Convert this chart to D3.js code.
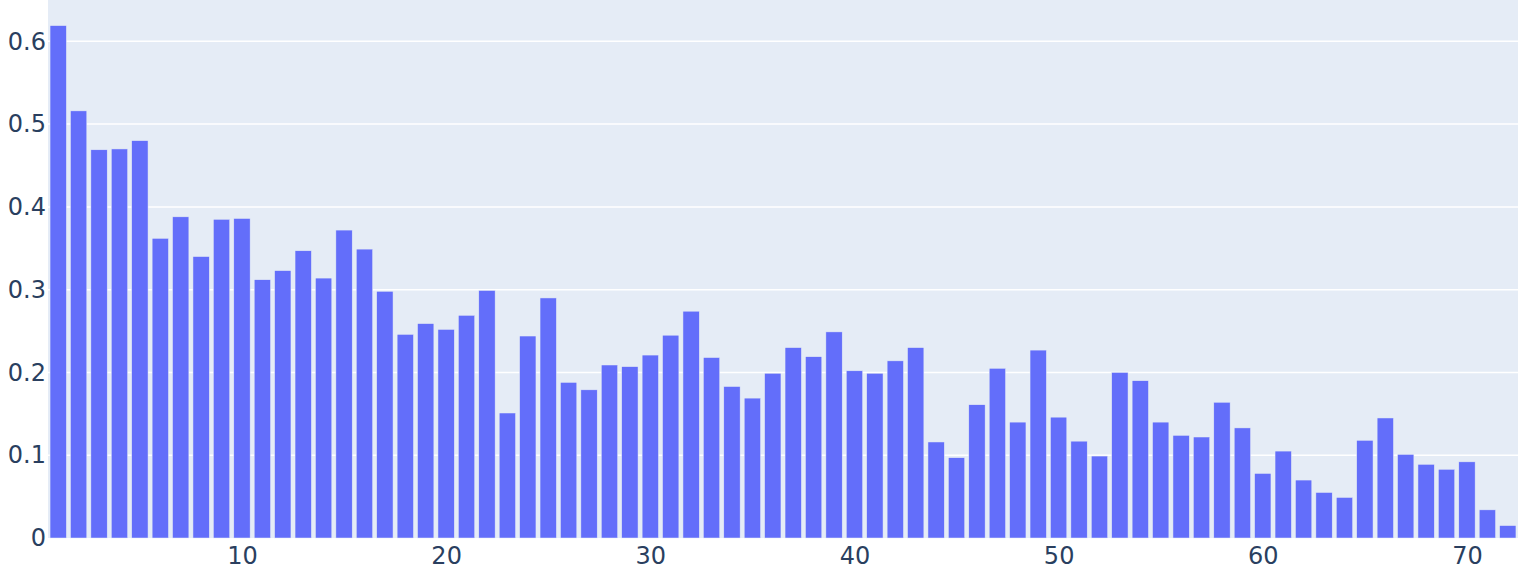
<!DOCTYPE html>
<html>
<head>
<meta charset="utf-8">
<script src="https://cdn.jsdelivr.net/npm/d3@7"></script>
<style>
  html, body { margin: 0; padding: 0; background: #fff; }
  .tick text { font-family: "DejaVu Sans", Verdana, sans-serif; fill: #2a3f5f; }
</style>
</head>
<body>
<div id="chart"></div>
<script>
;(function(){
  const W = 1518, H = 574,
        margin = { top: 0, right: 0, bottom: 36, left: 48 },
        barColor = '#636efa',
        bgColor  = '#E5ECF6';

  // values, one per index 1..72
  const indices = d3.range(1, 73);
  const values = [
    0.619, 0.516, 0.469, 0.470, 0.480, 0.362, 0.388, 0.340, 0.385, 0.386,
    0.312, 0.323, 0.347, 0.314, 0.372, 0.349, 0.298, 0.246, 0.259, 0.252,
    0.269, 0.299, 0.151, 0.244, 0.290, 0.188, 0.179, 0.209, 0.207, 0.221,
    0.245, 0.274, 0.218, 0.183, 0.169, 0.199, 0.230, 0.219, 0.249, 0.202,
    0.199, 0.214, 0.230, 0.116, 0.097, 0.161, 0.205, 0.140, 0.227, 0.146,
    0.117, 0.099, 0.200, 0.190, 0.140, 0.124, 0.122, 0.164, 0.133, 0.078,
    0.105, 0.070, 0.055, 0.049, 0.118, 0.145, 0.101, 0.089, 0.083, 0.092,
    0.034, 0.015
  ];
  const yTicks = [0, 0.1, 0.2, 0.3, 0.4, 0.5, 0.6];
  const xTicks = [10, 20, 30, 40, 50, 60, 70];

  const data = indices.map((k, i) => ({ k, v: values[i] }));

  const iw = W - margin.left - margin.right,
        ih = H - margin.top - margin.bottom;

  const x = d3.scaleLinear().domain([0.5, 72.5]).range([0, iw]);
  const y = d3.scaleLinear().domain([0, d3.max(values) * 1.05]).range([ih, 0]);
  const bw = (x(2) - x(1)) * 0.8;

  const svg = d3.select('#chart')
    .append('svg')
      .attr('width', W)
      .attr('height', H);

  const g = svg.append('g')
    .attr('transform', `translate(${margin.left},${margin.top})`);

  // plot background
  g.append('rect')
    .attr('width', iw)
    .attr('height', ih)
    .attr('fill', bgColor);

  // gridlines
  g.append('g').selectAll('line')
    .data(yTicks.filter(t => t > 0))
    .enter().append('line')
      .attr('x1', 0).attr('x2', iw)
      .attr('y1', d => y(d)).attr('y2', d => y(d))
      .attr('stroke', '#fff')
      .attr('stroke-width', 1.5);

  // bars
  g.append('g').selectAll('rect')
    .data(data)
    .enter().append('rect')
      .attr('x', d => x(d.k) - bw / 2)
      .attr('y', d => y(d.v))
      .attr('width', bw)
      .attr('height', d => y(0) - y(d.v))
      .attr('fill', barColor)
      .attr('stroke', bgColor)
      .attr('stroke-width', 0.5);

  // y axis
  const ya = g.append('g')
    .call(d3.axisLeft(y).tickValues(yTicks).tickSize(0).tickPadding(2)
      .tickFormat(d => d === 0 ? '0' : d3.format('.1f')(d)));
  ya.select('.domain').remove();
  ya.selectAll('text').attr('font-size', 24);

  // x axis
  const xa = g.append('g')
    .attr('transform', `translate(0,${ih})`)
    .call(d3.axisBottom(x).tickValues(xTicks).tickSize(0).tickPadding(9)
      .tickFormat(d3.format('d')));
  xa.select('.domain').remove();
  xa.selectAll('text').attr('font-size', 24);
})();
</script>
</body>
</html>
